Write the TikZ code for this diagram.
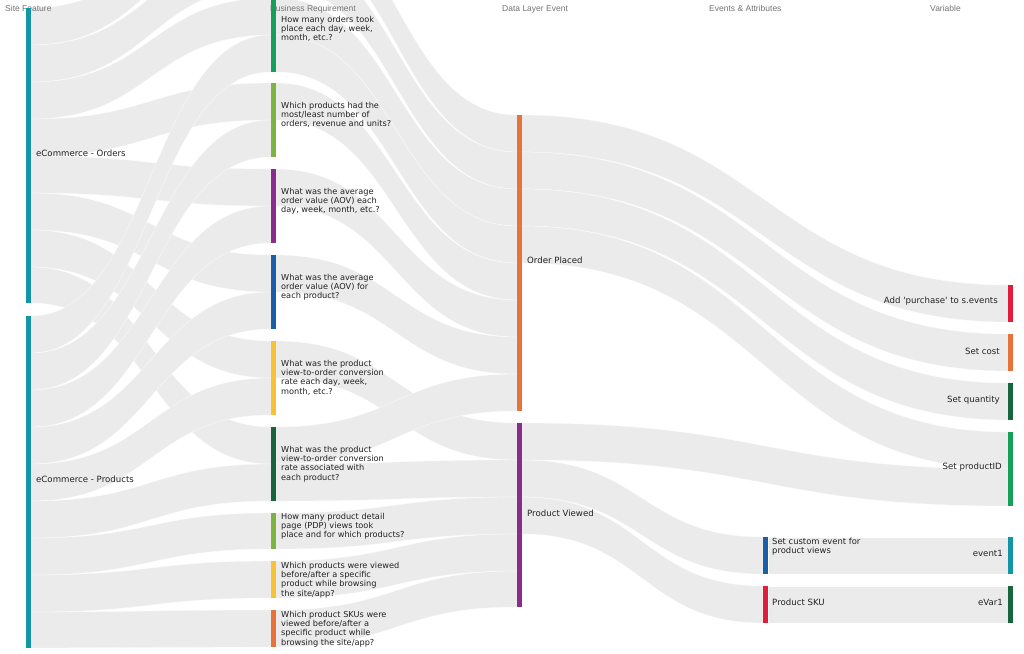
\documentclass[tikz,border=0pt]{standalone}
\usepackage{fontspec}
\setmainfont{DejaVu Sans}
\newfontfamily\hdrfont{Liberation Sans}
\definecolor{flowc}{HTML}{EBEBEB}
\definecolor{cteal}{HTML}{1395A8}
\definecolor{cgreen}{HTML}{15A05A}
\definecolor{clgreen}{HTML}{7CB342}
\definecolor{cpurple}{HTML}{8A2B8E}
\definecolor{cblue}{HTML}{1B5EA8}
\definecolor{cyellow}{HTML}{F5C334}
\definecolor{cdgreen}{HTML}{17653B}
\definecolor{corange}{HTML}{E8733A}
\definecolor{cred}{HTML}{E01E3C}
\definecolor{ctext}{HTML}{222222}
\definecolor{chdr}{HTML}{757575}
\newcommand\skflow[6]{\fill[flowc,draw=white,line width=0.2pt] (#1,#2) .. controls ({(#1+#4)/2},#2) and ({(#1+#4)/2},#5) .. (#4,#5) -- (#4,#6) .. controls ({(#1+#4)/2},#6) and ({(#1+#4)/2},#3) .. (#1,#3) -- cycle;}
\newcommand\skbar[4]{\fill[#4] ({#1-2.5},#2) rectangle ({#1+2.5},#3);}
\begin{document}
\begin{tikzpicture}[x=1pt,y=-1pt,
  brl/.style={anchor=north west,inner sep=0pt,align=left,text=ctext,font=\fontsize{8.2}{9.1}\selectfont},
  ndl/.style={inner sep=0pt,text=ctext,font=\fontsize{8.6}{9.4}\selectfont},
  hdr/.style={anchor=base west,inner sep=0pt,text=chdr,font=\hdrfont\fontsize{8.5}{9}\selectfont}]
\useasboundingbox (0,0) rectangle (1024,653);
\clip (0,0) rectangle (1024,653);
\fill[white] (0,0) rectangle (1024,653);
% Site feature -> Business requirement
\skflow{31}{8}{45}{271}{-100}{-63}
\skflow{31}{45}{82}{271}{-51}{-14}
\skflow{31}{82}{119}{271}{-2}{35}
\skflow{31}{119}{156}{271}{83}{120}
\skflow{31}{156}{193}{271}{169}{206}
\skflow{31}{193}{230}{271}{255}{292}
\skflow{31}{230}{267}{271}{341}{378}
\skflow{31}{267}{303}{271}{427}{464}
\skflow{31}{316}{353}{271}{35}{72}
\skflow{31}{353}{390}{271}{120}{157}
\skflow{31}{390}{427}{271}{206}{243}
\skflow{31}{427}{464}{271}{292}{329}
\skflow{31}{464}{501}{271}{378}{415}
\skflow{31}{501}{538}{271}{464}{501}
\skflow{31}{538}{575}{271}{513}{549}
\skflow{31}{575}{612}{271}{561}{598}
\skflow{31}{612}{648}{271}{610}{647}
% Business requirement -> Data layer event
\skflow{276}{-100}{-63}{517}{115}{152}
\skflow{276}{-51}{-14}{517}{152}{189}
\skflow{276}{-2}{35}{517}{189}{226}
\skflow{276}{35}{72}{517}{226}{263}
\skflow{276}{83}{120}{517}{263}{300}
\skflow{276}{169}{206}{517}{300}{337}
\skflow{276}{255}{292}{517}{337}{374}
\skflow{276}{341}{378}{517}{423}{460}
\skflow{276}{427}{464}{517}{374}{411}
\skflow{276}{464}{501}{517}{460}{497}
\skflow{276}{513}{549}{517}{497}{534}
\skflow{276}{561}{598}{517}{534}{571}
\skflow{276}{610}{647}{517}{571}{607}
% Data layer event -> events / variables
\skflow{522}{115}{152}{1008}{285}{322}
\skflow{522}{152}{189}{1008}{334}{371}
\skflow{522}{189}{226}{1008}{383}{420}
\skflow{522}{226}{263}{1008}{432}{469}
\skflow{522}{423}{460}{1008}{469}{506}
\skflow{522}{460}{497}{763}{537}{574}
\skflow{522}{497}{534}{763}{586}{623}
\skflow{768}{537}{574}{1008}{537}{574}
\skflow{768}{586}{623}{1008}{586}{623}
% headers
\node[hdr] (h0) at (5,11) {Site Feature};
\node[hdr] (h1) at (270,11) {Business Requirement};
\node[hdr] (h2) at (502,11) {Data Layer Event};
\node[hdr] (h3) at (709,11) {Events \& Attributes};
\node[hdr] (h4) at (930,11) {Variable};
% bars
\skbar{28.5}{8}{303}{cteal}
\skbar{28.5}{316}{648}{cteal}
\skbar{273.5}{-2}{72}{cgreen}
\skbar{273.5}{83}{157}{clgreen}
\skbar{273.5}{169}{243}{cpurple}
\skbar{273.5}{255}{329}{cblue}
\skbar{273.5}{341}{415}{cyellow}
\skbar{273.5}{427}{501}{cdgreen}
\skbar{273.5}{513}{549}{clgreen}
\skbar{273.5}{561}{598}{cyellow}
\skbar{273.5}{610}{647}{corange}
\skbar{519.5}{115}{411}{corange}
\skbar{519.5}{423}{607}{cpurple}
\skbar{765.5}{537}{574}{cblue}
\skbar{765.5}{586}{623}{cred}
\skbar{1010.5}{285}{322}{cred}
\skbar{1010.5}{334}{371}{corange}
\skbar{1010.5}{383}{420}{cdgreen}
\skbar{1010.5}{432}{506}{cgreen}
\skbar{1010.5}{537}{574}{cteal}
\skbar{1010.5}{586}{623}{cdgreen}
% labels
\node[ndl,anchor=base west] (lorders) at (36,156) {eCommerce - Orders};
\node[ndl,anchor=base west] (lproducts) at (36,482) {eCommerce - Products};
\node[brl] (lbr1) at (281,16.3) {How many orders took\\place each day, week,\\month, etc.?};
\node[brl] (lbr2) at (281,102.3) {Which products had the\\most/least number of\\orders, revenue and units?};
\node[brl] (lbr3) at (281,188.3) {What was the average\\order value (AOV) each\\day, week, month, etc.?};
\node[brl] (lbr4) at (281,274.3) {What was the average\\order value (AOV) for\\each product?};
\node[brl] (lbr5) at (281,360.3) {What was the product\\view-to-order conversion\\rate each day, week,\\month, etc.?};
\node[brl] (lbr6) at (281,446.3) {What was the product\\view-to-order conversion\\rate associated with\\each product?};
\node[brl] (lbr7) at (281,513.3) {How many product detail\\page (PDP) views took\\place and for which products?};
\node[brl] (lbr8) at (281,562.3) {Which products were viewed\\before/after a specific\\product while browsing\\the site/app?};
\node[brl] (lbr9) at (281,611.3) {Which product SKUs were\\viewed before/after a\\specific product while\\browsing the site/app?};
\node[ndl,anchor=base west] (lop) at (527,263.5) {Order Placed};
\node[ndl,anchor=base west] (lpv) at (527,516) {Product Viewed};
\node[brl,font=\fontsize{8.4}{9}\selectfont] (lce) at (772,538) {Set custom event for\\product views};
\node[ndl,anchor=base west] (lsku) at (772,605) {Product SKU};
\node[ndl,anchor=base east] (lpur) at (998,303) {Add \textquotesingle purchase\textquotesingle{} to s.events};
\node[ndl,anchor=base east] (lcost) at (1000,354) {Set cost};
\node[ndl,anchor=base east] (lqty) at (1000,402) {Set quantity};
\node[ndl,anchor=base east] (lpid) at (1002,469) {Set productID};
\node[ndl,anchor=base east] (lev1) at (1003,556) {event1};
\node[ndl,anchor=base east] (lev) at (1003,605) {eVar1};
\end{tikzpicture}
\end{document}
